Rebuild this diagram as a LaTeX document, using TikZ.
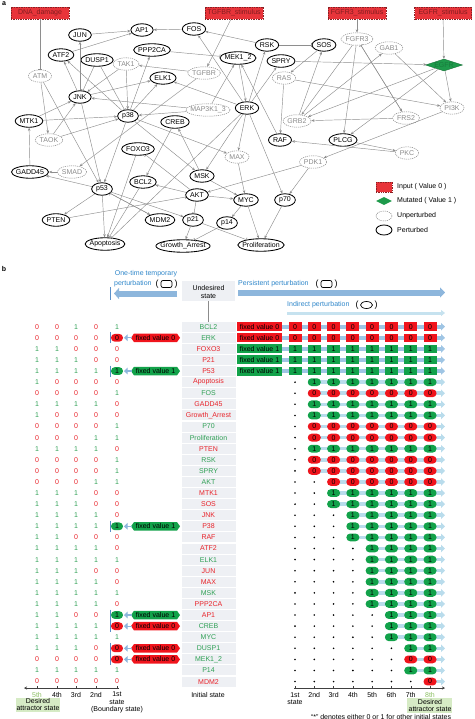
\documentclass[tikz,border=0pt]{standalone}
\usepackage{fontspec}
\setmainfont{Liberation Sans}
\usetikzlibrary{shapes.geometric,shapes.symbols,arrows.meta}
\definecolor{eg}{HTML}{8E8E8E}
\definecolor{ug}{HTML}{8A8A8A}
\definecolor{inred}{HTML}{E8343A}
\definecolor{mgreen}{HTML}{1E9A4B}
\definecolor{vgreen}{HTML}{2FA055}
\definecolor{vred}{HTML}{E8232A}
\colorlet{v0}{vred}
\colorlet{v1}{vgreen}
\definecolor{p1}{HTML}{12A24A}
\definecolor{p0}{HTML}{F0141C}
\definecolor{blueT}{HTML}{2E86C9}
\definecolor{arrB}{HTML}{8DB6DC}
\definecolor{arrL}{HTML}{C6E2EF}
\definecolor{rowB}{HTML}{9FC5E4}
\definecolor{rowL}{HTML}{B9DCEC}
\definecolor{lbg}{HTML}{EEF0F4}
\definecolor{dgreen}{HTML}{D6EBC5}
\definecolor{tgreen}{HTML}{8CC063}
\definecolor{barblue}{HTML}{5A8FC8}
\newcommand\nb[1]{\makebox[0.707\width]{#1}}
\tikzset{
 base/.style={font=\fontsize{7}{8}\selectfont},
 pert/.style={ellipse, draw=black, line width=0.85pt, inner xsep=3.2pt, inner ysep=0.9pt, minimum height=12.5pt, minimum width=19pt, base},
 unp/.style={ellipse, draw=ug, line width=0.5pt, dash pattern=on 1.2pt off 0.9pt, text=ug, inner xsep=3.2pt, inner ysep=0.9pt, minimum height=12.5pt, minimum width=19pt, base},
 inbox/.style={rectangle, fill=inred, draw=inred!60!black, dash pattern=on 1pt off 0.7pt, line width=0.5pt, minimum width=58pt, minimum height=12pt, inner sep=0pt, text=inred!55!black, base},
 act/.style={draw=eg, line width=0.45pt, -{Stealth[length=3.2pt,width=2.6pt]}},
 inh/.style={draw=eg, line width=0.45pt, -{Bar[width=4pt,line width=0.6pt]}},
 lbox/.style={rectangle, fill=lbg, minimum width=54pt, minimum height=10pt, inner sep=0pt, base},
 sqv/.style={rectangle, minimum width=13pt, minimum height=8.5pt, inner sep=0pt, base},
 pill/.style={rectangle, rounded corners=3.8pt, minimum width=13pt, minimum height=7.8pt, inner sep=0pt, base},
 dotn/.style={circle, fill=black, inner sep=0pt, minimum size=1.8pt},
 sig/.style={signal, signal to=west and east, signal pointer angle=110, minimum width=49pt, minimum height=8.5pt, inner sep=0pt, base},
 rowline/.style={line width=3.6pt, -{Triangle[length=4pt,width=7.5pt]}},
 axis/.style={draw=black!75, line width=0.45pt},
 tlab/.style={base, inner sep=0pt},
}
\begin{document}
\begin{tikzpicture}[x=1pt,y=-1pt]
\useasboundingbox (0,0) rectangle (474,719);
% ---------------- panel a ----------------
\node[font=\bfseries\fontsize{7}{8}\selectfont, inner sep=0pt] (la) at (4,4) {a};
\node[inbox] (DNAbox) at (40,13) {DNA\_damage};
\node[inbox] (TGFbox) at (234,13) {TGFBR\_stimulus};
\node[inbox] (FGFbox) at (357,13) {FGFR3\_stimulus};
\node[inbox, minimum width=57pt] (EGFbox) at (443,13) {EGFR\_stimulus};

\node[pert] (JUN) at (80,35) {\nb{JUN}};
\node[pert] (AP1) at (142,30) {\nb{AP1}};
\node[pert] (FOS) at (194,29) {\nb{FOS}};
\node[pert] (ATF2) at (61,55) {\nb{ATF2}};
\node[pert] (DUSP1) at (97,60) {\nb{DUSP1}};
\node[unp] (TAK1) at (126,64) {\nb{TAK1}};
\node[pert] (PPP2CA) at (152,50) {\nb{PPP2CA}};
\node[pert] (ELK1) at (163,78) {\nb{ELK1}};
\node[unp] (TGFBR) at (204,73) {\nb{TGFBR}};
\node[pert] (MEK) at (238,58) {\nb{MEK1\_2}};
\node[pert] (RSK) at (267,45) {\nb{RSK}};
\node[pert] (SOS) at (324,45) {\nb{SOS}};
\node[pert] (SPRY) at (281,61) {\nb{SPRY}};
\node[unp] (RAS) at (284,78) {\nb{RAS}};
\node[unp] (FGFR3) at (357,39) {\nb{FGFR3}};
\node[unp] (GAB1) at (389,48) {\nb{GAB1}};
\node[diamond, aspect=3, fill=mgreen, draw=mgreen!75!black, minimum width=37pt, minimum height=12pt, inner sep=0pt, text=mgreen!80!black, base] (EGFR) at (444,65) {EGFR};
\node[unp] (ATM) at (40,76) {\nb{ATM}};
\node[pert] (JNK) at (80,97) {\nb{JNK}};
\node[pert] (p38) at (128,116) {\nb{p38}};
\node[unp] (MAP3K) at (208,110) {\nb{MAP3K1\_3}};
\node[pert] (CREB) at (175,122) {\nb{CREB}};
\node[pert] (ERK) at (247,108) {\nb{ERK}};
\node[unp] (GRB2) at (297,121) {\nb{GRB2}};
\node[unp] (FRS2) at (406,118) {\nb{FRS2}};
\node[unp] (PI3K) at (452,108) {\nb{PI3K}};
\node[pert] (MTK1) at (29,121) {\nb{MTK1}};
\node[unp] (TAOK) at (49,140) {\nb{TAOK}};
\node[pert] (RAF) at (280,140) {\nb{RAF}};
\node[pert] (PLCG) at (343,140) {\nb{PLCG}};
\node[unp] (PKC) at (407,153) {\nb{PKC}};
\node[pert] (FOXO3) at (138,149) {\nb{FOXO3}};
\node[unp] (MAX) at (237,157) {\nb{MAX}};
\node[unp] (PDK1) at (313,162) {\nb{PDK1}};
\node[pert] (GADD45) at (30,172) {\nb{GADD45}};
\node[unp] (SMAD) at (72,172) {\nb{SMAD}};
\node[pert] (p53) at (102,189) {\nb{p53}};
\node[pert] (BCL2) at (143,182) {\nb{BCL2}};
\node[pert] (MSK) at (202,176) {\nb{MSK}};
\node[pert] (AKT) at (197,195) {\nb{AKT}};
\node[pert] (MYC) at (246,200) {\nb{MYC}};
\node[pert] (p70) at (285,200) {\nb{p70}};
\node[pert] (PTEN) at (56,220) {\nb{PTEN}};
\node[pert] (MDM2) at (160,220) {\nb{MDM2}};
\node[pert] (p21) at (193,220) {\nb{p21}};
\node[pert] (p14) at (227,223) {\nb{p14}};
\node[pert] (Apop) at (105,244) {\nb{Apoptosis}};
\node[pert] (GA) at (183,246) {\nb{Growth\_Arrest}};
\node[pert] (Prol) at (261,245) {\nb{Proliferation}};

\foreach \ea/\eb in {JUN/AP1, FOS/AP1, ATF2/AP1, JNK/JUN, JNK/ATF2, p38/ATF2, TAK1/p38, TAK1/JNK, TGFBR/TAK1, JNK/ELK1, p38/ELK1, ERK/ELK1, p38/PPP2CA, MEK/ERK, ERK/FOS, RSK/FOS, ERK/RSK, GRB2/SOS, SOS/RAS, RAS/RAF, RAF/MEK, ERK/MSK, ERK/MAX, ERK/p70, ERK/SPRY, SPRY/EGFR, FGFR3/GRB2, FGFR3/PLCG, FGFR3/FRS2, EGFR/GRB2, EGFR/PLCG, EGFR/PI3K, GRB2/GAB1, GAB1/PI3K, FRS2/GRB2, RAS/PI3K, PI3K/PDK1, PLCG/PKC, PKC/RAF, PDK1/AKT, PDK1/p70, ATM/p53, ATM/TAOK, TAOK/JNK, TAOK/p38, MTK1/JNK, MTK1/p38, GADD45/MTK1, SMAD/GADD45, TGFBR/SMAD, p53/GADD45, JNK/p53, p38/p53, p53/PTEN, p53/Apop, p53/MDM2, p53/p21, AKT/BCL2, AKT/MYC, MSK/CREB, p38/MSK, MAX/MYC, p38/MAX, MYC/p14, MYC/Prol, p70/Prol, p21/GA, FOXO3/Apop, CREB/BCL2, MSK/MYC, MAP3K/JNK, MAP3K/p38, MAP3K/MEK, TGFbox/TGFBR, FGFbox/FGFR3, EGFbox/EGFR}
  \draw[act] (\ea) -- (\eb);
\foreach \ea/\eb in {MDM2/p53, PTEN/AKT, AKT/FOXO3, AKT/p21, p21/Prol, p14/GA, BCL2/Apop, ERK/Apop, DUSP1/JNK, DUSP1/p38, FRS2/FGFR3, DNAbox/ATM, RSK/SOS, PPP2CA/MEK}
  \draw[inh] (\ea) -- (\eb);

% legend
\node[rectangle, fill=inred, draw=inred!60!black, dash pattern=on 1pt off 0.7pt, minimum width=16pt, minimum height=10pt, inner sep=0pt] (lg1) at (384,187) {};
\node[tlab, anchor=west] (lt1) at (397,187) {Input ( Value 0 )};
\node[diamond, aspect=2.2, fill=mgreen, minimum width=16pt, minimum height=8pt, inner sep=0pt] (lg2) at (384,201) {};
\node[tlab, anchor=west] (lt2) at (397,201) {Mutated ( Value 1 )};
\node[ellipse, draw=ug, dash pattern=on 1.2pt off 0.9pt, line width=0.5pt, minimum width=16pt, minimum height=10pt, inner sep=0pt] (lg3) at (384,216) {};
\node[tlab, anchor=west] (lt3) at (397,216) {Unperturbed};
\node[ellipse, draw=black, line width=0.85pt, minimum width=16pt, minimum height=10pt, inner sep=0pt] (lg4) at (384,230) {};
\node[tlab, anchor=west] (lt4) at (397,230) {Perturbed};

% ---------------- panel b ----------------
\node[font=\bfseries\fontsize{7}{8}\selectfont, inner sep=0pt] (lb) at (4,269) {b};
\node[tlab, text=blueT] (ot1) at (146,274) {One-time temporary};
\node[tlab, text=blueT, anchor=west] (ot2) at (114,284) {perturbation};
\node[inner sep=0pt, font=\fontsize{9}{9}\selectfont] (otp1) at (157,284) {(};
\node[draw=black, line width=0.7pt, rounded corners=2pt, minimum width=11pt, minimum height=7pt, inner sep=0pt] (otr) at (166.5,284) {};
\node[inner sep=0pt, font=\fontsize{9}{9}\selectfont] (otp2) at (176,284) {)};
\coordinate (otA) at (177,293.5);
\coordinate (otB) at (114,293.5);
\draw[arrB, line width=6pt, -{Triangle[length=5pt,width=11pt]}] (otA) -- (otB);
\draw[barblue, line width=0.9pt] (110.5,287) -- (110.5,300);

\node[rectangle, fill=lbg, minimum width=53pt, minimum height=20pt, inner sep=0pt] (und) at (208.5,291) {};
\node[tlab] (und1) at (208.5,287.5) {Undesired};
\node[tlab] (und2) at (208.5,296) {state};

\node[tlab, text=blueT, anchor=west] (pp1) at (238,284) {Persistent perturbation};
\node[inner sep=0pt, font=\fontsize{9}{9}\selectfont] (ppp1) at (317,284) {(};
\node[draw=black, line width=0.7pt, rounded corners=2pt, minimum width=11pt, minimum height=7pt, inner sep=0pt] (ppr) at (326.5,284) {};
\node[inner sep=0pt, font=\fontsize{9}{9}\selectfont] (ppp2) at (336,284) {)};
\coordinate (ppA) at (238,292.5);
\coordinate (ppB) at (445,292.5);
\draw[arrB, line width=6pt, -{Triangle[length=5pt,width=10pt]}] (ppA) -- (ppB);

\node[tlab, text=blueT, anchor=west] (ip1) at (287,305) {Indirect perturbation};
\node[inner sep=0pt, font=\fontsize{9}{9}\selectfont] (ipp1) at (357,305) {(};
\node[ellipse, draw=black, line width=0.7pt, minimum width=12pt, minimum height=7pt, inner sep=0pt] (ipr) at (366.5,305) {};
\node[inner sep=0pt, font=\fontsize{9}{9}\selectfont] (ipp2) at (376,305) {)};
\coordinate (ipA) at (287,313);
\coordinate (ipB) at (445,313);
\draw[arrL, line width=3pt, -{Triangle[length=4pt,width=6pt]}] (ipA) -- (ipB);

% rows
\foreach \ri/\lab/\lc/\va/\vb/\vc/\vd/\ve/\st/\vv in {
1/BCL2/1/0/0/1/0/1/1/0,
2/ERK/1/0/0/0/0/9/1/0,
3/FOXO3/0/1/1/0/0/0/1/1,
4/P21/0/1/1/1/0/0/1/1,
5/P53/0/1/1/1/1/9/1/1,
6/Apoptosis/0/1/0/0/0/0/2/1,
7/FOS/1/0/0/0/0/1/2/0,
8/GADD45/0/1/1/1/1/0/2/1,
9/Growth\_Arrest/0/1/0/0/0/0/2/1,
10/P70/1/0/0/0/0/1/2/0,
11/Proliferation/1/0/0/0/1/1/2/0,
12/PTEN/0/1/1/1/1/0/2/1,
13/RSK/1/0/0/0/0/1/2/0,
14/SPRY/1/0/0/0/0/1/2/0,
15/AKT/1/0/0/0/1/1/3/0,
16/MTK1/0/1/1/1/0/0/3/1,
17/SOS/0/1/1/1/0/0/3/1,
18/JNK/0/1/1/1/1/0/4/1,
19/P38/0/1/1/1/1/9/4/1,
20/RAF/0/1/1/0/0/0/4/1,
21/ATF2/0/1/1/1/1/0/5/1,
22/ELK1/1/1/1/1/1/1/5/1,
23/JUN/0/1/1/1/0/0/5/1,
24/MAX/0/1/1/1/1/0/5/1,
25/MSK/1/1/1/1/1/1/5/1,
26/PPP2CA/0/1/1/1/1/0/5/1,
27/AP1/0/1/1/0/0/9/6/1,
28/CREB/1/1/1/1/1/9/6/1,
29/MYC/1/1/1/1/1/1/6/1,
30/DUSP1/1/1/1/1/0/9/7/1,
31/MEK1\_2/1/0/0/0/0/9/7/0,
32/P14/1/1/1/1/1/1/7/1,
33/MDM2/0/0/0/0/0/0/8/0}{
  \pgfmathsetmacro\ry{326.7+(\ri-1)*11.09}
  \node[lbox, text=v\lc] (L\ri) at (208.5,\ry) {\lab};
  \node[tlab, text=v\va] (c5\ri) at (37,\ry) {\va};
  \node[tlab, text=v\vb] (c4\ri) at (57,\ry) {\vb};
  \node[tlab, text=v\vc] (c3\ri) at (76,\ry) {\vc};
  \node[tlab, text=v\vd] (c2\ri) at (96,\ry) {\vd};
  \ifnum\ve<2 \node[tlab, text=v\ve] (c1\ri) at (117,\ry) {\ve};\fi
  \pgfmathsetmacro\xs{295+19.29*(\st-1)}
  \ifnum\st=1
    \coordinate (ra\ri) at (281,\ry);
    \coordinate (rb\ri) at (445,\ry);
    \draw[rowline, rowB] (ra\ri) -- (rb\ri);
    \node[rectangle, fill=p\vv, minimum width=45pt, minimum height=9pt, inner sep=0pt, base] (F\ri) at (259.5,\ry) {fixed value \vv};
  \else
    \coordinate (ra\ri) at (\xs-6,\ry);
    \coordinate (rb\ri) at (445,\ry);
    \draw[rowline, rowL] (ra\ri) -- (rb\ri);
  \fi
  \foreach \k in {1,...,8}{
    \pgfmathsetmacro\xx{295+19.29*(\k-1)}
    \ifnum\k<\st
      \node[dotn] (d\ri-\k) at (\xx,\ry) {};
    \else
      \ifnum\st=1
        \node[sqv, fill=p\vv] (v\ri-\k) at (\xx,\ry) {\vv};
      \else
        \node[pill, fill=p\vv] (v\ri-\k) at (\xx,\ry) {\vv};
      \fi
    \fi
  }
}
% fixed one-time values
\foreach \ri/\vv in {2/0,5/1,19/1,27/1,28/0,30/0,31/0}{
  \pgfmathsetmacro\ry{326.7+(\ri-1)*11.09}
  \node[pill, fill=p\vv, minimum width=12pt] (fx\ri) at (117,\ry) {\vv};
  \node[sig, fill=p\vv] (fs\ri) at (155.5,\ry) {fixed value \vv};
  \coordinate (fa\ri) at (131.5,\ry);
  \coordinate (fb\ri) at (124,\ry);
  \draw[arrB, line width=1.2pt, -{Triangle[length=3.5pt,width=6.5pt]}] (fa\ri) -- (fb\ri);
}
\foreach \ra/\rb in {2/2,5/5,19/19,27/28,30/31}{
  \pgfmathsetmacro\ya{326.7+(\ra-1)*11.09-5.5}
  \pgfmathsetmacro\yb{326.7+(\rb-1)*11.09+5.5}
  \draw[barblue, line width=0.9pt] (110.5,\ya) -- (110.5,\yb);
}
% line from undesired state to labels
\draw[black!45, line width=0.8pt] (und.south) -- (L1.north);

% left axis
\coordinate (lxA) at (119,688);
\coordinate (lxB) at (24,688);
\draw[axis, -{Stealth[length=3pt,width=3pt]}] (lxA) -- (lxB);
\foreach \xx in {37,57,76,96,117} \draw[axis] (\xx,688) -- (\xx,686);
\node[rectangle, fill=dgreen, minimum width=44pt, minimum height=14pt, inner sep=0pt] (dgl) at (38,705) {};
\node[tlab, text=tgreen] (t5) at (37,694.5) {5th};
\node[tlab] (t4) at (57,694.5) {4th};
\node[tlab] (t3) at (76,694.5) {3rd};
\node[tlab] (t2) at (96,694.5) {2nd};
\node[tlab] (t1) at (117,694.5) {1st};
\node[tlab] (t1b) at (117,702) {state};
\node[tlab] (t1c) at (117,709.5) {(Boundary state)};
\node[tlab] (dl1) at (38,701) {Desired};
\node[tlab] (dl2) at (38,708.5) {attractor state};
\node[tlab] (ini) at (208,695) {Initial state};

% right axis
\coordinate (rxA) at (294,688);
\coordinate (rxB) at (445,688);
\draw[axis, -{Stealth[length=3pt,width=3pt]}] (rxA) -- (rxB);
\foreach \k/\tx in {1/1st,2/2nd,3/3rd,4/4th,5/5th,6/6th,7/7th}{
  \pgfmathsetmacro\xx{295+19.29*(\k-1)}
  \draw[axis] (\xx,688) -- (\xx,686);
  \node[tlab] (rt\k) at (\xx,695) {\tx};
}
\draw[axis] (430,688) -- (430,686);
\node[rectangle, fill=dgreen, minimum width=45pt, minimum height=15pt, inner sep=0pt] (dgr) at (429.5,705.5) {};
\node[tlab, text=tgreen] (rt8) at (430,695) {8th};
\node[tlab] (rs1) at (295,702) {state};
\node[tlab] (dr1) at (430,701.5) {Desired};
\node[tlab] (dr2) at (430,709) {attractor state};
\node[tlab] (note) at (381,716.5) {``*'' denotes either 0 or 1 for other initial states};
\end{tikzpicture}
\end{document}
